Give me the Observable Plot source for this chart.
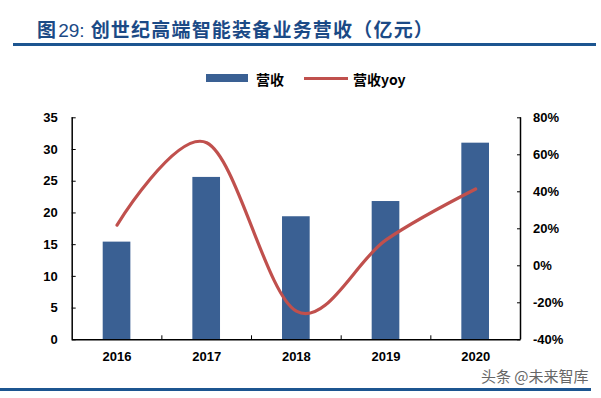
<!DOCTYPE html>
<html>
<head>
<meta charset="utf-8">
<script src="https://cdn.jsdelivr.net/npm/d3@7"></script>
<script src="https://cdn.jsdelivr.net/npm/@observablehq/plot@0.6"></script>
<style>
  html, body { margin: 0; padding: 0; background: #fff; }
  #page { position: relative; width: 601px; height: 398px; overflow: hidden; font-family: "Liberation Sans", Arial, sans-serif; }
  #title { position: absolute; left: 37px; top: 14px; font-family: "Noto Sans CJK SC", sans-serif; font-weight: 700; font-size: 19px; letter-spacing: 1.2px; color: #1b4a86; line-height: 30px; white-space: nowrap; }
  #title .num { font-family: "Liberation Sans", Arial, sans-serif; font-weight: 400; font-size: 19px; letter-spacing: 0; margin-left: 1px; margin-right: 6px; }
  #rule-top { position: absolute; left: 13px; top: 43px; width: 583px; height: 3px; background: #1c5590; }
  #rule-bottom { position: absolute; left: 0px; top: 388px; width: 591px; height: 3px; background: #1c5590; }
  #legend { position: absolute; top: 69px; left: 0; width: 601px; height: 20px; font-family: "Noto Sans CJK SC", sans-serif; font-weight: 700; font-size: 14px; color: #000; }
  #legend .sw { position: absolute; }
  #legend .lbl { position: absolute; top: 0; line-height: 20px; white-space: nowrap; }
  #wm { position: absolute; left: 481px; top: 365px; font-family: "Noto Sans CJK SC", sans-serif; font-size: 15px; color: #666; white-space: nowrap; }
  #chart { position: absolute; left: 0; top: 100px; }
</style>
</head>
<body>
<div id="page">
  <div id="title">图<span class="num">29:</span>创世纪高端智能装备业务营收（亿元）</div>
  <div id="rule-top"></div>
  <div id="legend">
    <div class="sw" style="left:206px;top:5px;width:42px;height:8px;background:#3a6093"></div>
    <div class="lbl" style="left:256px">营收</div>
    <div class="sw" style="left:304px;top:8px;width:44px;height:3px;background:#c0504d"></div>
    <div class="lbl" style="left:353px">营收yoy</div>
  </div>
  <div id="chart"></div>
  <div id="wm">头条 @未来智库</div>
  <div id="rule-bottom"></div>
</div>
<script>
// Data
const years = [2016, 2017, 2018, 2019, 2020];
const revenue = [15.4, 25.6, 19.4, 21.8, 31.0];          // 营收 (亿元)
const revenueYoy = [22, 66.5, -24.5, 14, 41.5];          // 营收yoy (%)
const leftTicks = [0, 5, 10, 15, 20, 25, 30, 35];
const rightTicks = [-40, -20, 0, 20, 40, 60, 80];
const leftDomain = [0, 35];
const rightDomain = [-40, 80];
const xDomain = [2015.5, 2020.5];
const xBoundaries = [2016.5, 2017.5, 2018.5, 2019.5];

const toLeft = p => leftDomain[0] + (p - rightDomain[0]) / (rightDomain[1] - rightDomain[0]) * (leftDomain[1] - leftDomain[0]);
const fromLeft = v => rightDomain[0] + (v - leftDomain[0]) / (leftDomain[1] - leftDomain[0]) * (rightDomain[1] - rightDomain[0]);

const rows = years.map((y, i) => ({year: y, rev: revenue[i], yoy: revenueYoy[i], yoyL: toLeft(revenueYoy[i])}));

const chart = Plot.plot({
  width: 601,
  height: 270,
  marginTop: 17.3,
  marginBottom: 30.7,
  marginLeft: 71.7,
  marginRight: 81,
  style: {fontFamily: "'Liberation Sans', Arial, sans-serif", fontSize: "13px", fontWeight: "bold", color: "#000", background: "transparent"},
  x: {type: "linear", domain: xDomain},
  y: {domain: leftDomain},
  marks: [
    Plot.rectY(rows, {x1: d => d.year - 0.5, x2: d => d.year + 0.5, y: "rev", fill: "#3a6093", insetLeft: 31, insetRight: 31}),
    Plot.line(rows, {x: "year", y: "yoyL", stroke: "#c0504d", strokeWidth: 3.2, curve: "cardinal"}),
    Plot.ruleY([leftDomain[0]], {stroke: "#000", strokeWidth: 1.5}),
    Plot.ruleX(xDomain, {stroke: "#000", strokeWidth: 1.5}),
    Plot.axisY({anchor: "left", ticks: leftTicks, tickSize: -4, tickPadding: 18.5, label: null, tickFormat: d => String(d)}),
    Plot.axisY({anchor: "right", ticks: rightTicks.map(toLeft), tickSize: -4, tickPadding: 16.5, label: null, tickFormat: d => Math.round(fromLeft(d)) + "%"}),
    Plot.axisX({ticks: xBoundaries, tickSize: -4, tickFormat: () => "", label: null}),
    Plot.axisX({ticks: years, tickSize: 0, tickPadding: 12, tickFormat: d => String(d), label: null})
  ]
});
document.getElementById("chart").appendChild(chart);
</script>
</body>
</html>
